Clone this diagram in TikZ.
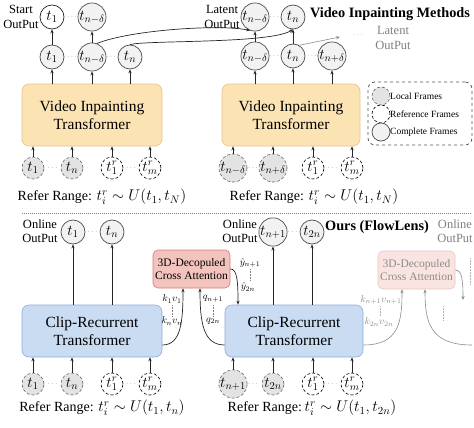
\documentclass[tikz,border=0pt]{standalone}
\usepackage{fontspec}
\setmainfont{Liberation Serif}
\DeclareFontShape{OML}{cmm}{m}{it}{<-8>cmmi7 <8-11>cmmi10 <11->cmmi12}{}
\DeclareFontShape{OMS}{cmsy}{m}{n}{<-8>cmsy7 <8->cmsy10}{}
\DeclareFontShape{OT1}{cmr}{m}{n}{<-8>cmr7 <8-11>cmr10 <11->cmr12}{}
\usetikzlibrary{arrows.meta}
\definecolor{ybox}{HTML}{FBE3B4}
\definecolor{yline}{HTML}{E3C48E}
\definecolor{bbox}{HTML}{C9DCF2}
\definecolor{bline}{HTML}{8CAED6}
\definecolor{rbox}{HTML}{F3C3BD}
\definecolor{rline}{HTML}{D27C77}
\definecolor{sep}{HTML}{5B8DB8}
\newcommand{\rangemath}[1]{{\fontsize{15.5}{16}\selectfont$#1$}}
\begin{document}
\begin{tikzpicture}[x=1pt,y=-1pt,
  fr/.style={circle, minimum size=24pt, inner sep=0pt, font=\fontsize{15}{15}\selectfont},
  outc/.style={fr, draw=black!70, fill=gray!10, line width=0.7pt},
  loc/.style={fr, minimum size=22pt, draw=black!60, densely dashed, fill=gray!22, line width=0.6pt},
  refc/.style={fr, minimum size=22pt, draw=black, densely dashed, fill=white, line width=0.6pt},
  arr/.style={-{Stealth[length=4pt,width=3.2pt]}, black!85, line width=0.7pt},
  farr/.style={-{Stealth[length=4pt,width=3.2pt]}, black!45, line width=0.6pt},
  dotn/.style={font=\fontsize{7}{7}\selectfont, text=black!60, inner sep=0pt},
  ytr/.style={draw=yline, fill=ybox, rounded corners=7pt, minimum width=140pt, minimum height=62pt, align=center, font=\fontsize{15.5}{18}\selectfont, line width=0.6pt},
  btr/.style={draw=bline, fill=bbox, rounded corners=7pt, minimum width=140pt, minimum height=52pt, align=center, font=\fontsize{15.5}{18}\selectfont, line width=0.6pt},
  att/.style={draw=rline, fill=rbox, rounded corners=5pt, minimum width=77pt, minimum height=38pt, align=center, font=\fontsize{11.5}{13}\selectfont, inner sep=1pt, line width=0.6pt},
  lab/.style={font=\fontsize{12.5}{14.5}\selectfont, align=center, inner sep=0pt},
  rr/.style={font=\fontsize{14}{15}\selectfont, inner sep=0pt},
  sm/.style={font=\fontsize{10}{10}\selectfont, inner sep=0pt},
  vd/.style={densely dotted, black!50, line width=0.5pt}
]
\useasboundingbox (0,0) rectangle (474,428);

% ---------- top section ----------
\node[lab] (start) at (21,17) {Start\\OutPut};
\node[lab] (lat1) at (222,17) {Latent\\OutPut};
\node[font=\bfseries\fontsize{14.3}{15}\selectfont, inner sep=0pt] (vim) at (390,14) {Video Inpainting Methods};

\node[outc, draw=black!85, fill=white] (o1) at (52,17) {$t_1$};
\node[outc] (o2) at (92,17) {$t_{n-\delta}$};
\node[outc] (m1) at (52,57) {$t_1$};
\node[outc] (m2) at (92,57) {$t_{n-\delta}$};
\node[outc] (m3) at (130,57) {$t_n$};
\node[dotn] at (72,17) {$\cdots$};
\node[dotn] at (72,57) {$\cdots$};
\node[dotn] at (111,57) {$\cdots$};

\node[outc] (p1) at (255,17) {$t_{n-\delta}$};
\node[outc] (p2) at (293,17) {$t_n$};
\node[outc] (q1) at (255,56) {$t_{n-\delta}$};
\node[outc] (q2) at (293,56) {$t_n$};
\node[outc] (q3) at (332,56) {$t_{n+\delta}$};
\node[dotn] at (274,17) {$\cdots$};
\node[dotn] at (274,56) {$\cdots$};
\node[dotn] at (312,56) {$\cdots$};

\node[lab, text=black!50] (lat2) at (393,38) {Latent\\OutPut};
\node[dotn, text=black!45] (ldots) at (358,35) {$\cdots$};
\coordinate (lend) at (340,37);

\draw[arr] (m1) -- (o1);
\draw[arr] (m2) -- (o2);
\draw[arr] (q1) -- (p1);
\draw[arr] (q2) -- (p2);
\draw[arr] (m2.70) .. controls (130,30) and (220,24) .. (p1.250);
\draw[arr] (m3.north) .. controls (145,40) and (270,44) .. (p2.south);
\draw[farr] (q2.60) -- (lend);

\node[ytr] (vt1) at (92,115) {Video Inpainting\\Transformer};
\node[ytr, minimum width=138pt] (vt2) at (291,115) {Video Inpainting\\Transformer};

\foreach \n in {m1,m2,m3} \draw[arr] (\n |- vt1.north) -- (\n);
\foreach \n in {q1,q2,q3} \draw[arr] (\n |- vt2.north) -- (\n);

\node[loc] (a1) at (33,168) {$t_1$};
\node[loc] (a2) at (72,168) {$t_n$};
\node[refc] (a3) at (112,168) {$t^r_1$};
\node[refc] (a4) at (150,168) {$t^r_m$};
\node[dotn] at (52.5,168) {$\cdots$};
\node[dotn] at (131,168) {$\cdots$};
\node[loc] (b1) at (233,168) {$t_{n-\delta}$};
\node[loc] (b2) at (273,168) {$t_{n+\delta}$};
\node[refc] (b3) at (313,168) {$t^r_1$};
\node[refc] (b4) at (352,168) {$t^r_m$};
\node[dotn] at (253,168) {$\cdots$};
\node[dotn] at (332.5,168) {$\cdots$};
\foreach \n in {a1,a2,a3,a4} \draw[arr] (\n) -- (\n |- vt1.south);
\foreach \n in {b1,b2,b3,b4} \draw[arr] (\n) -- (\n |- vt2.south);

\node[rr] (rr1) at (102,197) {Refer Range: \rangemath{t_i^r\sim U(t_1,t_N)}};
\node[rr] (rr2) at (314,197) {Refer Range: \rangemath{t_i^r\sim U(t_1,t_N)}};

% legend
\node[draw=black!65, dashed, rounded corners=7pt, minimum width=104pt, minimum height=63pt, line width=0.8pt] (leg) at (420,113.5) {};
\node[loc, minimum size=18pt] (l1) at (381,96) {};
\node[refc, minimum size=18pt] (l2) at (381,114) {};
\node[outc, minimum size=18pt] (l3) at (381,132) {};
\node[sm, anchor=west, font=\fontsize{9.5}{10}\selectfont] at (390,96) {Local Frames};
\node[sm, anchor=west, font=\fontsize{9.5}{10}\selectfont] at (390,114) {Reference Frames};
\node[sm, anchor=west, font=\fontsize{9.5}{10}\selectfont] at (390,132) {Complete Frames};

% separator
\draw[sep, densely dotted, line width=1pt] (22,213) -- (472,213);

% ---------- bottom section ----------
\node[lab] (on1) at (40,231) {Online\\OutPut};
\node[lab] (on2) at (240,231) {Online\\OutPut};
\node[font=\bfseries\fontsize{14.3}{15}\selectfont, inner sep=0pt] (ours) at (377,227) {Ours (FlowLens)};
\node[lab, text=black!50] (on3) at (455,231) {Online\\OutPut};

\node[outc] (c1) at (73,232) {$t_1$};
\node[outc] (c2) at (112,232) {$t_n$};
\node[dotn] at (92.5,232) {$\cdots$};
\node[outc] (d1) at (273,232) {$t_{n+1}$};
\node[outc] (d2) at (312,232) {$t_{2n}$};
\node[dotn] at (292.5,232) {$\cdots$};

\node[btr] (cr1) at (92,331) {Clip-Recurrent\\Transformer};
\node[btr, minimum width=138pt] (cr2) at (294,331) {Clip-Recurrent\\Transformer};
\foreach \n in {c1,c2} \draw[arr] (\n |- cr1.north) -- (\n);
\foreach \n in {d1,d2} \draw[arr] (\n |- cr2.north) -- (\n);

\node[loc] (e1) at (33,384) {$t_1$};
\node[loc] (e2) at (72,384) {$t_n$};
\node[refc] (e3) at (112,384) {$t^r_1$};
\node[refc] (e4) at (150,384) {$t^r_m$};
\node[dotn] at (52.5,384) {$\cdots$};
\node[dotn] at (131,384) {$\cdots$};
\node[loc] (f1) at (233,384) {$t_{n+1}$};
\node[loc] (f2) at (273,384) {$t_{2n}$};
\node[refc] (f3) at (313,384) {$t^r_1$};
\node[refc] (f4) at (352,384) {$t^r_m$};
\node[dotn] at (253,384) {$\cdots$};
\node[dotn] at (332.5,384) {$\cdots$};
\foreach \n in {e1,e2,e3,e4} \draw[arr] (\n) -- (\n |- cr1.south);
\foreach \n in {f1,f2,f3,f4} \draw[arr] (\n) -- (\n |- cr2.south);

\node[rr] (rr3) at (102,408) {Refer Range: \rangemath{t_i^r\sim U(t_1,t_n)}};
\node[rr] (rr4) at (312,408) {Refer Range:\rangemath{\,t_i^r\sim U(t_1,t_{2n})}};

% attention
\node[att] (at1) at (191.5,269) {3D-Decopuled\\Cross Attention};
\node[att, draw=rline!45, fill=rbox!45, text=black!45] (at2) at (416.5,270) {3D-Decopuled\\Cross Attention};

\draw[arr] ([yshift=-14pt]cr1.east) .. controls (181,345) and (183,322) .. ([xshift=-8.5pt]at1.south);
\draw[arr] ([yshift=-14pt]cr2.west) .. controls (203,345) and (200,322) .. ([xshift=8.5pt]at1.south);
\draw[arr] (at1.east) .. controls (237,269) and (238,280) .. ([xshift=-56pt]cr2.north);

\node[sm] at (172,299) {$k_1v_1$};
\node[sm] at (172,321) {$k_nv_n$};
\draw[vd] (172,305) -- (172,316);
\node[sm] at (213,299) {$q_{n+1}$};
\node[sm] at (213,321) {$q_{2n}$};
\draw[vd] (213,305) -- (213,316);
\node[sm] at (250,263) {$\hat y_{n+1}$};
\node[sm] at (248,287) {$\hat y_{2n}$};
\draw[vd] (250,269) -- (250,281);

% faded continuation
\coordinate (rin) at (472,345);
\draw[farr] ([yshift=-14pt]cr2.east) .. controls (399,345) and (402,322) .. ([xshift=-14.5pt]at2.south);
\draw[farr] (rin) .. controls (430,345) and (425,322) .. ([xshift=8.5pt]at2.south);
\coordinate (aout) at (463,300);
\draw[farr] (at2.east) .. controls (462,270) and (463,280) .. (aout);
\node[sm, text=black!45] at (381,300) {$k_{n+1}v_{n+1}$};
\node[sm, text=black!45] at (379,322) {$k_{2n}v_{2n}$};
\draw[vd, black!30] (380,306) -- (380,316);
\draw[vd, black!30] (443,306) -- (443,320);
\draw[vd, black!30] (470,258) -- (470,285);
\end{tikzpicture}
\end{document}
